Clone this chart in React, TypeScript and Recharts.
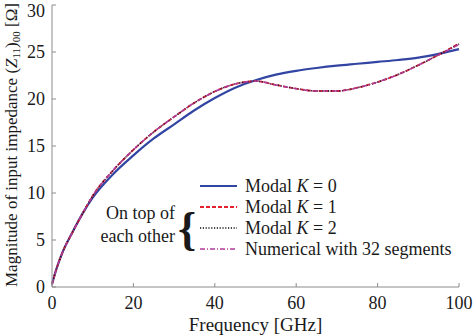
import { LineChart, Line, XAxis, YAxis } from 'recharts';

const freq = [0, 1, 2.5, 5, 7.5, 10, 15, 20, 25, 30, 35, 40, 45, 50, 55, 60, 65, 70, 75, 80, 85, 90, 95, 100];
const modalK0 = [0.3, 1.8, 3.6, 5.8, 7.8, 9.5, 12.0, 14.0, 15.8, 17.3, 18.8, 20.1, 21.2, 22.0, 22.6, 23.0, 23.3, 23.55, 23.75, 23.95, 24.15, 24.4, 24.8, 25.3];
const modalK1 = [0.3, 1.8, 3.6, 5.8, 7.8, 9.7, 12.4, 14.6, 16.5, 18.1, 19.6, 20.8, 21.6, 21.9, 21.5, 21.1, 20.85, 20.85, 21.2, 21.8, 22.6, 23.6, 24.7, 25.9];
const modalK2 = [0.3, 1.8, 3.6, 5.8, 7.8, 9.7, 12.4, 14.6, 16.5, 18.1, 19.6, 20.8, 21.6, 21.9, 21.5, 21.1, 20.85, 20.85, 21.2, 21.8, 22.6, 23.6, 24.7, 25.85];
const numerical32 = [0.3, 1.8, 3.6, 5.8, 7.8, 9.7, 12.4, 14.6, 16.5, 18.1, 19.6, 20.8, 21.6, 21.9, 21.5, 21.1, 20.85, 20.85, 21.2, 21.8, 22.6, 23.6, 24.7, 25.8];

const xTicks = [0, 20, 40, 60, 80, 100];
const yTicks = [0, 5, 10, 15, 20, 25, 30];

const data = freq.map((f, i) => ({
  f,
  k0: modalK0[i],
  k1: modalK1[i],
  k2: modalK2[i],
  num: numerical32[i],
}));

const FONT = '"Liberation Serif"';
const AXIS_COLOR = '#8c8c8c';
const TEXT_COLOR = '#1a1a1a';

const legendItems = [
  { label: 'Modal ', k: '0', color: '#3345a3', dash: undefined, width: 2.2 },
  { label: 'Modal ', k: '1', color: '#e3202b', dash: '4 2', width: 1.8 },
  { label: 'Modal ', k: '2', color: '#111', dash: '1.2 1.6', width: 1.6 },
  { label: 'Numerical with 32 segments', k: null, color: '#b13b9c', dash: '5 2 1 2', width: 1.6 },
];

export default function App() {
  return (
    <div style={{ position: 'absolute', left: 0, top: 0, width: 474, height: 336, background: '#fff', fontFamily: FONT }}>
      <LineChart width={474} height={336} data={data} margin={{ top: 5, right: 15, left: 8, bottom: 19 }} style={{ fontFamily: FONT }}>
        <XAxis
          dataKey="f"
          type="number"
          domain={[0, 100]}
          ticks={xTicks}
          height={30}
          stroke={AXIS_COLOR}
          tickSize={-4}
          tickMargin={13}
          tick={{ fill: TEXT_COLOR, fontSize: 18, style: { fontFamily: FONT } }}
        />
        <XAxis
          xAxisId="top"
          dataKey="f"
          type="number"
          orientation="top"
          domain={[0, 100]}
          ticks={xTicks}
          height={0}
          stroke={AXIS_COLOR}
          tickSize={-4}
          tick={false}
        />
        <YAxis
          type="number"
          domain={[0, 30]}
          ticks={yTicks}
          width={44}
          stroke={AXIS_COLOR}
          tickSize={-4}
          tickMargin={11}
          tick={{ fill: TEXT_COLOR, fontSize: 18, style: { fontFamily: FONT } }}
        />
        <YAxis
          yAxisId="right"
          type="number"
          orientation="right"
          domain={[0, 30]}
          ticks={yTicks}
          width={0}
          stroke={AXIS_COLOR}
          tickSize={-4}
          tick={false}
        />
        <Line type="monotone" dataKey="k0" stroke="#3345a3" strokeWidth={2.2} dot={false} isAnimationActive={false} />
        <Line type="monotone" dataKey="k1" stroke="#e3202b" strokeWidth={1.8} strokeDasharray="4 2" dot={false} isAnimationActive={false} />
        <Line type="monotone" dataKey="k2" stroke="#111" strokeWidth={1.4} strokeDasharray="1.2 1.6" dot={false} isAnimationActive={false} />
        <Line type="monotone" dataKey="num" stroke="#b13b9c" strokeWidth={1.5} strokeDasharray="5 2 1 2" dot={false} isAnimationActive={false} />
      </LineChart>

      {/* y axis title */}
      <svg width={30} height={336} style={{ position: 'absolute', left: 0, top: 0, fontFamily: FONT }}>
        <text
          transform="translate(17,145) rotate(-90)"
          textAnchor="middle"
          fontSize={17}
          style={{ fontFamily: FONT }}
          fill={TEXT_COLOR}
        >
          Magnitude of input impedance (<tspan fontStyle="italic">Z</tspan>
          <tspan fontSize={11} dy={3}>11</tspan>
          <tspan dy={-3}>)</tspan>
          <tspan fontSize={11} dy={3}>00</tspan>
          <tspan dy={-3}> [Ω]</tspan>
        </text>
      </svg>

      {/* x axis title */}
      <div style={{ position: 'absolute', left: 52, width: 407, top: 314, textAlign: 'center', fontSize: 19, color: TEXT_COLOR, fontFamily: FONT }}>
        Frequency [GHz]
      </div>

      {/* legend */}
      <svg width={474} height={336} style={{ position: 'absolute', left: 0, top: 0, pointerEvents: 'none', fontFamily: FONT }}>
        {legendItems.map((it, i) => {
          const y = 186 + i * 21;
          return (
            <g key={i}>
              <line x1={200} x2={237} y1={y} y2={y} stroke={it.color} strokeWidth={it.width} strokeDasharray={it.dash} />
              <text x={245} y={y + 6} fontSize={18} fill={TEXT_COLOR}>
                {it.label}
                {it.k !== null && (
                  <>
                    <tspan fontStyle="italic">K</tspan>
                    <tspan> = {it.k}</tspan>
                  </>
                )}
              </text>
            </g>
          );
        })}
        <text x={175} y={219} textAnchor="end" fontSize={18} fill={TEXT_COLOR}>On top of</text>
        <text x={175} y={242} textAnchor="end" fontSize={18} fill={TEXT_COLOR}>each other</text>
        <text x={178} y={244} fontSize={46} fontWeight="bold" fill={TEXT_COLOR}>{'{'}</text>
      </svg>
    </div>
  );
}
